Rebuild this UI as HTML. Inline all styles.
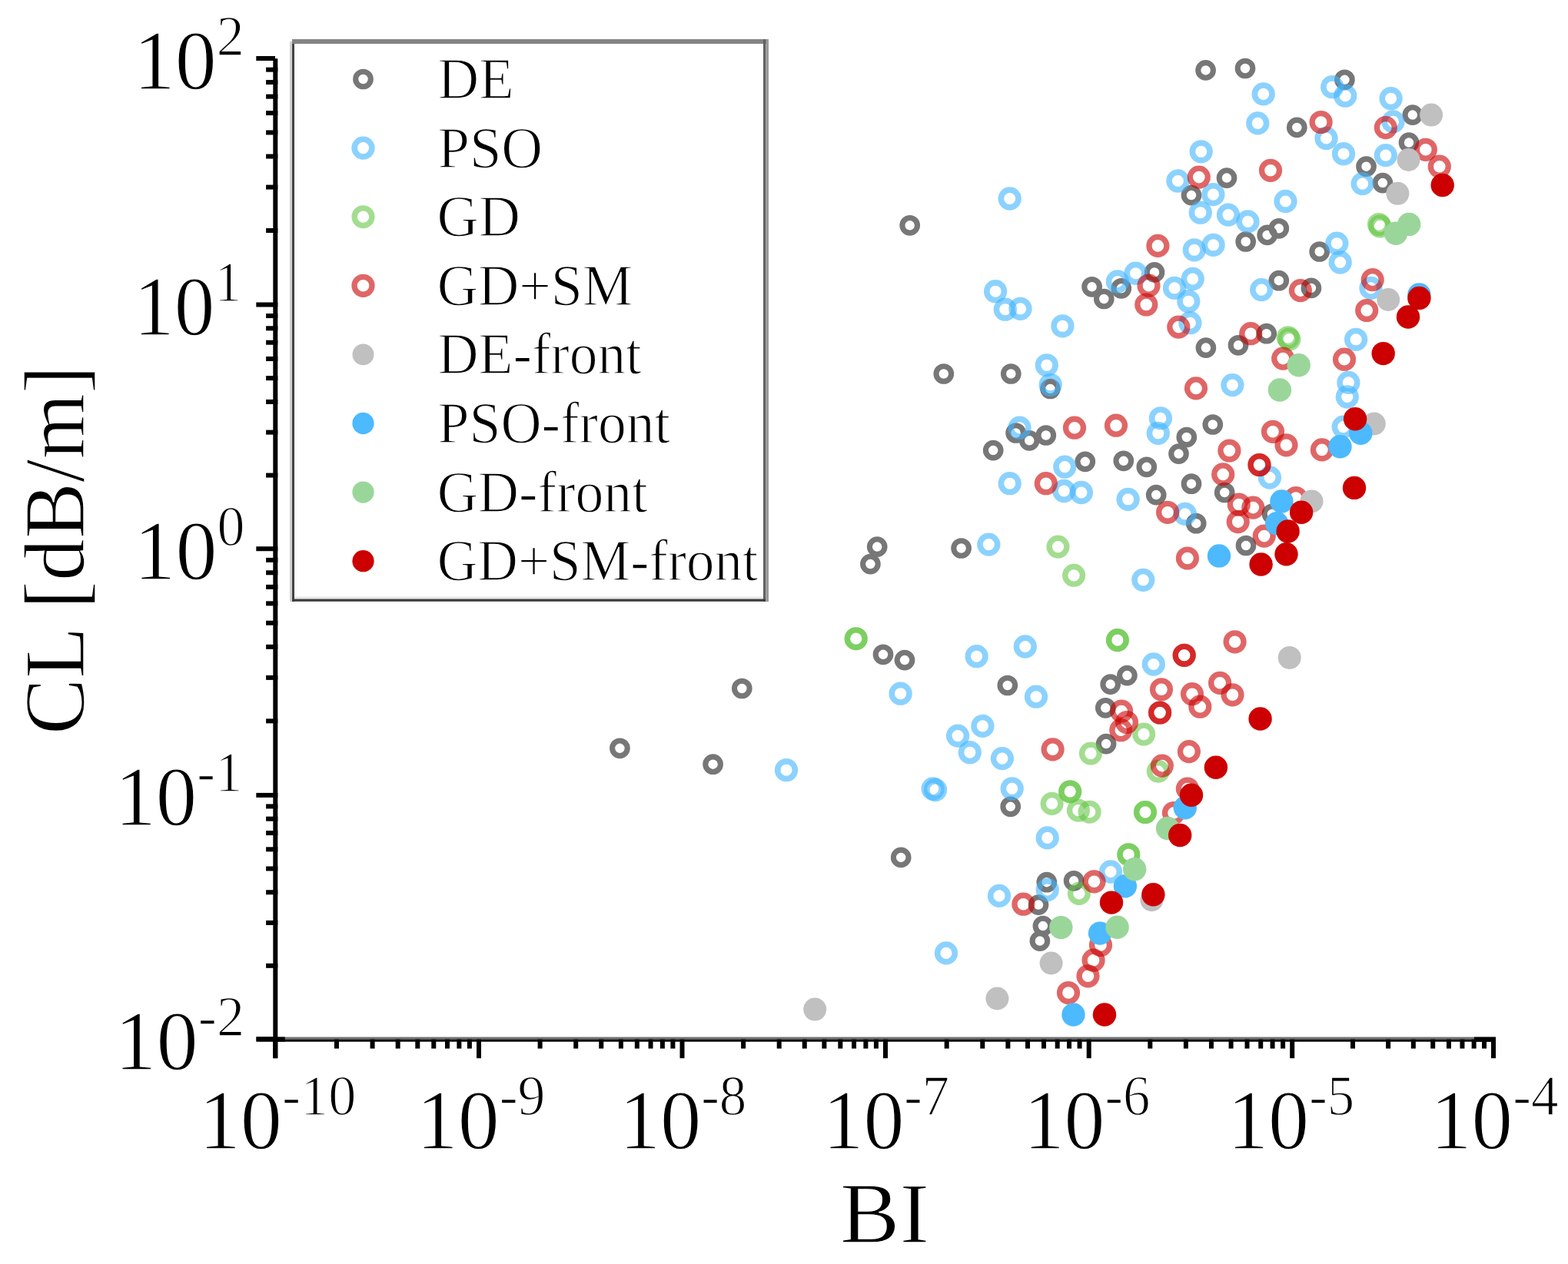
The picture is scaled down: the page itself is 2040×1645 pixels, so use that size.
<!DOCTYPE html><html><head><meta charset="utf-8"><title>CL vs BI</title><style>html,body{margin:0;padding:0;background:#fff;}svg{display:block;}</style></head><body>
<svg width="2040" height="1645" viewBox="0 0 2040 1645">
<rect x="0" y="0" width="2040" height="1645" fill="#fff"/>
<g>
<circle cx="1568.6" cy="91.4" r="9.80" fill="none" stroke="#777777" stroke-width="7.10"/>
<circle cx="1620.0" cy="89.0" r="9.80" fill="none" stroke="#777777" stroke-width="7.10"/>
<circle cx="1687.3" cy="165.9" r="9.80" fill="none" stroke="#777777" stroke-width="7.10"/>
<circle cx="1749.4" cy="103.8" r="9.80" fill="none" stroke="#777777" stroke-width="7.10"/>
<circle cx="1837.8" cy="149.6" r="9.80" fill="none" stroke="#777777" stroke-width="7.10"/>
<circle cx="1833.0" cy="185.6" r="9.80" fill="none" stroke="#777777" stroke-width="7.10"/>
<circle cx="1777.5" cy="216.7" r="9.80" fill="none" stroke="#777777" stroke-width="7.10"/>
<circle cx="1798.9" cy="238.1" r="9.80" fill="none" stroke="#777777" stroke-width="7.10"/>
<circle cx="1596.0" cy="231.6" r="9.80" fill="none" stroke="#777777" stroke-width="7.10"/>
<circle cx="1550.0" cy="254.1" r="9.80" fill="none" stroke="#777777" stroke-width="7.10"/>
<circle cx="1620.7" cy="314.5" r="9.80" fill="none" stroke="#777777" stroke-width="7.10"/>
<circle cx="1648.7" cy="305.9" r="9.80" fill="none" stroke="#777777" stroke-width="7.10"/>
<circle cx="1663.8" cy="297.3" r="9.80" fill="none" stroke="#777777" stroke-width="7.10"/>
<circle cx="1183.7" cy="293.3" r="9.80" fill="none" stroke="#777777" stroke-width="7.10"/>
<circle cx="1420.6" cy="373.3" r="9.80" fill="none" stroke="#777777" stroke-width="7.10"/>
<circle cx="1436.3" cy="389.0" r="9.80" fill="none" stroke="#777777" stroke-width="7.10"/>
<circle cx="1458.8" cy="375.3" r="9.80" fill="none" stroke="#777777" stroke-width="7.10"/>
<circle cx="1716.7" cy="327.5" r="9.80" fill="none" stroke="#777777" stroke-width="7.10"/>
<circle cx="1502.0" cy="354.4" r="9.80" fill="none" stroke="#777777" stroke-width="7.10"/>
<circle cx="1663.8" cy="365.2" r="9.80" fill="none" stroke="#777777" stroke-width="7.10"/>
<circle cx="1705.9" cy="374.9" r="9.80" fill="none" stroke="#777777" stroke-width="7.10"/>
<circle cx="1568.9" cy="452.6" r="9.80" fill="none" stroke="#777777" stroke-width="7.10"/>
<circle cx="1611.0" cy="449.3" r="9.80" fill="none" stroke="#777777" stroke-width="7.10"/>
<circle cx="1647.7" cy="434.2" r="9.80" fill="none" stroke="#777777" stroke-width="7.10"/>
<circle cx="1227.8" cy="486.5" r="9.80" fill="none" stroke="#777777" stroke-width="7.10"/>
<circle cx="1315.3" cy="486.5" r="9.80" fill="none" stroke="#777777" stroke-width="7.10"/>
<circle cx="1366.4" cy="506.0" r="9.80" fill="none" stroke="#777777" stroke-width="7.10"/>
<circle cx="1321.6" cy="563.5" r="9.80" fill="none" stroke="#777777" stroke-width="7.10"/>
<circle cx="1339.2" cy="573.3" r="9.80" fill="none" stroke="#777777" stroke-width="7.10"/>
<circle cx="1360.8" cy="566.5" r="9.80" fill="none" stroke="#777777" stroke-width="7.10"/>
<circle cx="1292.2" cy="586.1" r="9.80" fill="none" stroke="#777777" stroke-width="7.10"/>
<circle cx="1411.8" cy="600.8" r="9.80" fill="none" stroke="#777777" stroke-width="7.10"/>
<circle cx="1461.8" cy="599.8" r="9.80" fill="none" stroke="#777777" stroke-width="7.10"/>
<circle cx="1491.8" cy="607.8" r="9.80" fill="none" stroke="#777777" stroke-width="7.10"/>
<circle cx="1504.2" cy="644.1" r="9.80" fill="none" stroke="#777777" stroke-width="7.10"/>
<circle cx="1577.8" cy="552.5" r="9.80" fill="none" stroke="#777777" stroke-width="7.10"/>
<circle cx="1543.8" cy="569.0" r="9.80" fill="none" stroke="#777777" stroke-width="7.10"/>
<circle cx="1533.5" cy="590.6" r="9.80" fill="none" stroke="#777777" stroke-width="7.10"/>
<circle cx="1550.0" cy="629.7" r="9.80" fill="none" stroke="#777777" stroke-width="7.10"/>
<circle cx="1556.2" cy="681.2" r="9.80" fill="none" stroke="#777777" stroke-width="7.10"/>
<circle cx="1593.2" cy="641.0" r="9.80" fill="none" stroke="#777777" stroke-width="7.10"/>
<circle cx="1655.0" cy="668.8" r="9.80" fill="none" stroke="#777777" stroke-width="7.10"/>
<circle cx="1621.0" cy="710.0" r="9.80" fill="none" stroke="#777777" stroke-width="7.10"/>
<circle cx="1141.2" cy="711.6" r="9.80" fill="none" stroke="#777777" stroke-width="7.10"/>
<circle cx="1132.4" cy="734.1" r="9.80" fill="none" stroke="#777777" stroke-width="7.10"/>
<circle cx="1250.6" cy="713.5" r="9.80" fill="none" stroke="#777777" stroke-width="7.10"/>
<circle cx="1149.0" cy="851.8" r="9.80" fill="none" stroke="#777777" stroke-width="7.10"/>
<circle cx="1177.0" cy="859.1" r="9.80" fill="none" stroke="#777777" stroke-width="7.10"/>
<circle cx="1310.8" cy="892.0" r="9.80" fill="none" stroke="#777777" stroke-width="7.10"/>
<circle cx="1466.4" cy="879.1" r="9.80" fill="none" stroke="#777777" stroke-width="7.10"/>
<circle cx="1444.7" cy="890.6" r="9.80" fill="none" stroke="#777777" stroke-width="7.10"/>
<circle cx="1438.3" cy="921.3" r="9.80" fill="none" stroke="#777777" stroke-width="7.10"/>
<circle cx="1439.1" cy="968.1" r="9.80" fill="none" stroke="#777777" stroke-width="7.10"/>
<circle cx="1314.7" cy="1049.8" r="9.80" fill="none" stroke="#777777" stroke-width="7.10"/>
<circle cx="1172.2" cy="1115.9" r="9.80" fill="none" stroke="#777777" stroke-width="7.10"/>
<circle cx="1351.0" cy="1177.6" r="9.80" fill="none" stroke="#777777" stroke-width="7.10"/>
<circle cx="1361.8" cy="1148.2" r="9.80" fill="none" stroke="#777777" stroke-width="7.10"/>
<circle cx="1397.1" cy="1146.3" r="9.80" fill="none" stroke="#777777" stroke-width="7.10"/>
<circle cx="1356.9" cy="1205.1" r="9.80" fill="none" stroke="#777777" stroke-width="7.10"/>
<circle cx="1352.9" cy="1224.6" r="9.80" fill="none" stroke="#777777" stroke-width="7.10"/>
<circle cx="965.3" cy="896.0" r="9.80" fill="none" stroke="#777777" stroke-width="7.10"/>
<circle cx="806.4" cy="973.8" r="9.80" fill="none" stroke="#777777" stroke-width="7.10"/>
<circle cx="927.6" cy="994.7" r="9.80" fill="none" stroke="#777777" stroke-width="7.10"/>
<circle cx="1643.7" cy="122.4" r="11.35" fill="none" stroke="#3FB4FF" stroke-width="7.60" stroke-opacity="0.6"/>
<circle cx="1636.3" cy="160.4" r="11.35" fill="none" stroke="#3FB4FF" stroke-width="7.60" stroke-opacity="0.6"/>
<circle cx="1725.5" cy="180.0" r="11.35" fill="none" stroke="#3FB4FF" stroke-width="7.60" stroke-opacity="0.6"/>
<circle cx="1748.0" cy="200.2" r="11.35" fill="none" stroke="#3FB4FF" stroke-width="7.60" stroke-opacity="0.6"/>
<circle cx="1733.2" cy="113.2" r="11.35" fill="none" stroke="#3FB4FF" stroke-width="7.60" stroke-opacity="0.6"/>
<circle cx="1750.2" cy="124.7" r="11.35" fill="none" stroke="#3FB4FF" stroke-width="7.60" stroke-opacity="0.6"/>
<circle cx="1809.6" cy="128.2" r="11.35" fill="none" stroke="#3FB4FF" stroke-width="7.60" stroke-opacity="0.6"/>
<circle cx="1812.5" cy="158.4" r="11.35" fill="none" stroke="#3FB4FF" stroke-width="7.60" stroke-opacity="0.6"/>
<circle cx="1802.8" cy="202.1" r="11.35" fill="none" stroke="#3FB4FF" stroke-width="7.60" stroke-opacity="0.6"/>
<circle cx="1772.6" cy="239.1" r="11.35" fill="none" stroke="#3FB4FF" stroke-width="7.60" stroke-opacity="0.6"/>
<circle cx="1562.7" cy="197.3" r="11.35" fill="none" stroke="#3FB4FF" stroke-width="7.60" stroke-opacity="0.6"/>
<circle cx="1532.4" cy="235.5" r="11.35" fill="none" stroke="#3FB4FF" stroke-width="7.60" stroke-opacity="0.6"/>
<circle cx="1578.4" cy="253.1" r="11.35" fill="none" stroke="#3FB4FF" stroke-width="7.60" stroke-opacity="0.6"/>
<circle cx="1672.5" cy="262.0" r="11.35" fill="none" stroke="#3FB4FF" stroke-width="7.60" stroke-opacity="0.6"/>
<circle cx="1561.8" cy="276.7" r="11.35" fill="none" stroke="#3FB4FF" stroke-width="7.60" stroke-opacity="0.6"/>
<circle cx="1598.0" cy="279.6" r="11.35" fill="none" stroke="#3FB4FF" stroke-width="7.60" stroke-opacity="0.6"/>
<circle cx="1623.5" cy="288.4" r="11.35" fill="none" stroke="#3FB4FF" stroke-width="7.60" stroke-opacity="0.6"/>
<circle cx="1313.7" cy="258.5" r="11.35" fill="none" stroke="#3FB4FF" stroke-width="7.60" stroke-opacity="0.6"/>
<circle cx="1295.1" cy="379.2" r="11.35" fill="none" stroke="#3FB4FF" stroke-width="7.60" stroke-opacity="0.6"/>
<circle cx="1307.8" cy="402.7" r="11.35" fill="none" stroke="#3FB4FF" stroke-width="7.60" stroke-opacity="0.6"/>
<circle cx="1327.5" cy="401.8" r="11.35" fill="none" stroke="#3FB4FF" stroke-width="7.60" stroke-opacity="0.6"/>
<circle cx="1382.4" cy="424.3" r="11.35" fill="none" stroke="#3FB4FF" stroke-width="7.60" stroke-opacity="0.6"/>
<circle cx="1453.9" cy="366.5" r="11.35" fill="none" stroke="#3FB4FF" stroke-width="7.60" stroke-opacity="0.6"/>
<circle cx="1477.5" cy="355.7" r="11.35" fill="none" stroke="#3FB4FF" stroke-width="7.60" stroke-opacity="0.6"/>
<circle cx="1553.8" cy="325.3" r="11.35" fill="none" stroke="#3FB4FF" stroke-width="7.60" stroke-opacity="0.6"/>
<circle cx="1578.6" cy="318.8" r="11.35" fill="none" stroke="#3FB4FF" stroke-width="7.60" stroke-opacity="0.6"/>
<circle cx="1739.3" cy="316.7" r="11.35" fill="none" stroke="#3FB4FF" stroke-width="7.60" stroke-opacity="0.6"/>
<circle cx="1743.7" cy="341.5" r="11.35" fill="none" stroke="#3FB4FF" stroke-width="7.60" stroke-opacity="0.6"/>
<circle cx="1528.0" cy="374.9" r="11.35" fill="none" stroke="#3FB4FF" stroke-width="7.60" stroke-opacity="0.6"/>
<circle cx="1551.7" cy="363.0" r="11.35" fill="none" stroke="#3FB4FF" stroke-width="7.60" stroke-opacity="0.6"/>
<circle cx="1546.3" cy="392.2" r="11.35" fill="none" stroke="#3FB4FF" stroke-width="7.60" stroke-opacity="0.6"/>
<circle cx="1548.4" cy="420.2" r="11.35" fill="none" stroke="#3FB4FF" stroke-width="7.60" stroke-opacity="0.6"/>
<circle cx="1641.2" cy="377.1" r="11.35" fill="none" stroke="#3FB4FF" stroke-width="7.60" stroke-opacity="0.6"/>
<circle cx="1783.5" cy="374.9" r="11.35" fill="none" stroke="#3FB4FF" stroke-width="7.60" stroke-opacity="0.6"/>
<circle cx="1764.1" cy="441.8" r="11.35" fill="none" stroke="#3FB4FF" stroke-width="7.60" stroke-opacity="0.6"/>
<circle cx="1754.4" cy="497.9" r="11.35" fill="none" stroke="#3FB4FF" stroke-width="7.60" stroke-opacity="0.6"/>
<circle cx="1752.8" cy="516.5" r="11.35" fill="none" stroke="#3FB4FF" stroke-width="7.60" stroke-opacity="0.6"/>
<circle cx="1603.4" cy="501.1" r="11.35" fill="none" stroke="#3FB4FF" stroke-width="7.60" stroke-opacity="0.6"/>
<circle cx="1361.8" cy="475.3" r="11.35" fill="none" stroke="#3FB4FF" stroke-width="7.60" stroke-opacity="0.6"/>
<circle cx="1366.7" cy="500.8" r="11.35" fill="none" stroke="#3FB4FF" stroke-width="7.60" stroke-opacity="0.6"/>
<circle cx="1326.5" cy="556.7" r="11.35" fill="none" stroke="#3FB4FF" stroke-width="7.60" stroke-opacity="0.6"/>
<circle cx="1385.3" cy="607.6" r="11.35" fill="none" stroke="#3FB4FF" stroke-width="7.60" stroke-opacity="0.6"/>
<circle cx="1313.7" cy="629.2" r="11.35" fill="none" stroke="#3FB4FF" stroke-width="7.60" stroke-opacity="0.6"/>
<circle cx="1384.3" cy="639.0" r="11.35" fill="none" stroke="#3FB4FF" stroke-width="7.60" stroke-opacity="0.6"/>
<circle cx="1406.9" cy="641.0" r="11.35" fill="none" stroke="#3FB4FF" stroke-width="7.60" stroke-opacity="0.6"/>
<circle cx="1467.6" cy="649.8" r="11.35" fill="none" stroke="#3FB4FF" stroke-width="7.60" stroke-opacity="0.6"/>
<circle cx="1509.9" cy="544.3" r="11.35" fill="none" stroke="#3FB4FF" stroke-width="7.60" stroke-opacity="0.6"/>
<circle cx="1506.8" cy="563.8" r="11.35" fill="none" stroke="#3FB4FF" stroke-width="7.60" stroke-opacity="0.6"/>
<circle cx="1651.9" cy="621.5" r="11.35" fill="none" stroke="#3FB4FF" stroke-width="7.60" stroke-opacity="0.6"/>
<circle cx="1747.7" cy="555.6" r="11.35" fill="none" stroke="#3FB4FF" stroke-width="7.60" stroke-opacity="0.6"/>
<circle cx="1541.8" cy="668.8" r="11.35" fill="none" stroke="#3FB4FF" stroke-width="7.60" stroke-opacity="0.6"/>
<circle cx="1286.3" cy="708.6" r="11.35" fill="none" stroke="#3FB4FF" stroke-width="7.60" stroke-opacity="0.6"/>
<circle cx="1487.3" cy="754.8" r="11.35" fill="none" stroke="#3FB4FF" stroke-width="7.60" stroke-opacity="0.6"/>
<circle cx="1270.6" cy="854.2" r="11.35" fill="none" stroke="#3FB4FF" stroke-width="7.60" stroke-opacity="0.6"/>
<circle cx="1333.8" cy="841.5" r="11.35" fill="none" stroke="#3FB4FF" stroke-width="7.60" stroke-opacity="0.6"/>
<circle cx="1500.8" cy="864.5" r="11.35" fill="none" stroke="#3FB4FF" stroke-width="7.60" stroke-opacity="0.6"/>
<circle cx="1171.6" cy="902.7" r="11.35" fill="none" stroke="#3FB4FF" stroke-width="7.60" stroke-opacity="0.6"/>
<circle cx="1348.0" cy="906.7" r="11.35" fill="none" stroke="#3FB4FF" stroke-width="7.60" stroke-opacity="0.6"/>
<circle cx="1278.4" cy="944.9" r="11.35" fill="none" stroke="#3FB4FF" stroke-width="7.60" stroke-opacity="0.6"/>
<circle cx="1246.1" cy="957.6" r="11.35" fill="none" stroke="#3FB4FF" stroke-width="7.60" stroke-opacity="0.6"/>
<circle cx="1261.8" cy="979.2" r="11.35" fill="none" stroke="#3FB4FF" stroke-width="7.60" stroke-opacity="0.6"/>
<circle cx="1303.9" cy="987.1" r="11.35" fill="none" stroke="#3FB4FF" stroke-width="7.60" stroke-opacity="0.6"/>
<circle cx="1213.7" cy="1026.5" r="11.35" fill="none" stroke="#3FB4FF" stroke-width="7.60" stroke-opacity="0.6"/>
<circle cx="1217.0" cy="1028.0" r="11.35" fill="none" stroke="#3FB4FF" stroke-width="7.60" stroke-opacity="0.6"/>
<circle cx="1316.7" cy="1026.3" r="11.35" fill="none" stroke="#3FB4FF" stroke-width="7.60" stroke-opacity="0.6"/>
<circle cx="1362.7" cy="1090.4" r="11.35" fill="none" stroke="#3FB4FF" stroke-width="7.60" stroke-opacity="0.6"/>
<circle cx="1300.0" cy="1165.9" r="11.35" fill="none" stroke="#3FB4FF" stroke-width="7.60" stroke-opacity="0.6"/>
<circle cx="1362.7" cy="1158.0" r="11.35" fill="none" stroke="#3FB4FF" stroke-width="7.60" stroke-opacity="0.6"/>
<circle cx="1445.0" cy="1134.5" r="11.35" fill="none" stroke="#3FB4FF" stroke-width="7.60" stroke-opacity="0.6"/>
<circle cx="1231.0" cy="1240.4" r="11.35" fill="none" stroke="#3FB4FF" stroke-width="7.60" stroke-opacity="0.6"/>
<circle cx="1023.0" cy="1002.2" r="11.35" fill="none" stroke="#3FB4FF" stroke-width="7.60" stroke-opacity="0.6"/>
<circle cx="1794.0" cy="292.0" r="11.35" fill="none" stroke="#61C53F" stroke-width="7.40" stroke-opacity="0.58"/>
<circle cx="1795.5" cy="294.5" r="11.35" fill="none" stroke="#61C53F" stroke-width="7.40" stroke-opacity="0.58"/>
<circle cx="1675.7" cy="439.2" r="11.35" fill="none" stroke="#61C53F" stroke-width="7.40" stroke-opacity="0.58"/>
<circle cx="1677.4" cy="441.6" r="11.35" fill="none" stroke="#61C53F" stroke-width="7.40" stroke-opacity="0.58"/>
<circle cx="1376.5" cy="711.6" r="11.35" fill="none" stroke="#61C53F" stroke-width="7.40" stroke-opacity="0.58"/>
<circle cx="1397.1" cy="748.8" r="11.35" fill="none" stroke="#61C53F" stroke-width="7.40" stroke-opacity="0.58"/>
<circle cx="1113.7" cy="831.2" r="11.35" fill="none" stroke="#61C53F" stroke-width="7.40" stroke-opacity="0.58"/>
<circle cx="1113.7" cy="831.2" r="11.35" fill="none" stroke="#61C53F" stroke-width="7.40" stroke-opacity="0.58"/>
<circle cx="1453.9" cy="833.1" r="11.35" fill="none" stroke="#61C53F" stroke-width="7.40" stroke-opacity="0.58"/>
<circle cx="1453.9" cy="833.1" r="11.35" fill="none" stroke="#61C53F" stroke-width="7.40" stroke-opacity="0.58"/>
<circle cx="1488.1" cy="955.5" r="11.35" fill="none" stroke="#61C53F" stroke-width="7.40" stroke-opacity="0.58"/>
<circle cx="1419.0" cy="980.5" r="11.35" fill="none" stroke="#61C53F" stroke-width="7.40" stroke-opacity="0.58"/>
<circle cx="1392.2" cy="1030.2" r="11.35" fill="none" stroke="#61C53F" stroke-width="7.40" stroke-opacity="0.58"/>
<circle cx="1392.2" cy="1030.2" r="11.35" fill="none" stroke="#61C53F" stroke-width="7.40" stroke-opacity="0.58"/>
<circle cx="1368.6" cy="1045.9" r="11.35" fill="none" stroke="#61C53F" stroke-width="7.40" stroke-opacity="0.58"/>
<circle cx="1402.9" cy="1054.7" r="11.35" fill="none" stroke="#61C53F" stroke-width="7.40" stroke-opacity="0.58"/>
<circle cx="1417.6" cy="1056.7" r="11.35" fill="none" stroke="#61C53F" stroke-width="7.40" stroke-opacity="0.58"/>
<circle cx="1490.0" cy="1057.0" r="11.35" fill="none" stroke="#61C53F" stroke-width="7.40" stroke-opacity="0.58"/>
<circle cx="1490.0" cy="1057.0" r="11.35" fill="none" stroke="#61C53F" stroke-width="7.40" stroke-opacity="0.58"/>
<circle cx="1506.8" cy="1003.8" r="11.35" fill="none" stroke="#61C53F" stroke-width="7.40" stroke-opacity="0.58"/>
<circle cx="1403.9" cy="1162.9" r="11.35" fill="none" stroke="#61C53F" stroke-width="7.40" stroke-opacity="0.58"/>
<circle cx="1468.3" cy="1112.2" r="11.35" fill="none" stroke="#61C53F" stroke-width="7.40" stroke-opacity="0.58"/>
<circle cx="1468.3" cy="1112.2" r="11.35" fill="none" stroke="#61C53F" stroke-width="7.40" stroke-opacity="0.58"/>
<circle cx="1718.6" cy="159.0" r="11.45" fill="none" stroke="#CC0000" stroke-width="7.30" stroke-opacity="0.6"/>
<circle cx="1802.8" cy="166.1" r="11.45" fill="none" stroke="#CC0000" stroke-width="7.30" stroke-opacity="0.6"/>
<circle cx="1854.8" cy="194.8" r="11.45" fill="none" stroke="#CC0000" stroke-width="7.30" stroke-opacity="0.6"/>
<circle cx="1872.8" cy="216.7" r="11.45" fill="none" stroke="#CC0000" stroke-width="7.30" stroke-opacity="0.6"/>
<circle cx="1559.8" cy="230.6" r="11.45" fill="none" stroke="#CC0000" stroke-width="7.30" stroke-opacity="0.6"/>
<circle cx="1653.0" cy="221.8" r="11.45" fill="none" stroke="#CC0000" stroke-width="7.30" stroke-opacity="0.6"/>
<circle cx="1506.4" cy="319.9" r="11.45" fill="none" stroke="#CC0000" stroke-width="7.30" stroke-opacity="0.6"/>
<circle cx="1494.5" cy="371.7" r="11.45" fill="none" stroke="#CC0000" stroke-width="7.30" stroke-opacity="0.6"/>
<circle cx="1491.3" cy="396.5" r="11.45" fill="none" stroke="#CC0000" stroke-width="7.30" stroke-opacity="0.6"/>
<circle cx="1533.3" cy="425.6" r="11.45" fill="none" stroke="#CC0000" stroke-width="7.30" stroke-opacity="0.6"/>
<circle cx="1691.9" cy="378.1" r="11.45" fill="none" stroke="#CC0000" stroke-width="7.30" stroke-opacity="0.6"/>
<circle cx="1785.7" cy="364.1" r="11.45" fill="none" stroke="#CC0000" stroke-width="7.30" stroke-opacity="0.6"/>
<circle cx="1778.2" cy="404.0" r="11.45" fill="none" stroke="#CC0000" stroke-width="7.30" stroke-opacity="0.6"/>
<circle cx="1627.2" cy="434.2" r="11.45" fill="none" stroke="#CC0000" stroke-width="7.30" stroke-opacity="0.6"/>
<circle cx="1669.2" cy="466.6" r="11.45" fill="none" stroke="#CC0000" stroke-width="7.30" stroke-opacity="0.6"/>
<circle cx="1749.0" cy="467.7" r="11.45" fill="none" stroke="#CC0000" stroke-width="7.30" stroke-opacity="0.6"/>
<circle cx="1556.0" cy="505.4" r="11.45" fill="none" stroke="#CC0000" stroke-width="7.30" stroke-opacity="0.6"/>
<circle cx="1398.0" cy="556.7" r="11.45" fill="none" stroke="#CC0000" stroke-width="7.30" stroke-opacity="0.6"/>
<circle cx="1452.0" cy="553.7" r="11.45" fill="none" stroke="#CC0000" stroke-width="7.30" stroke-opacity="0.6"/>
<circle cx="1360.8" cy="629.2" r="11.45" fill="none" stroke="#CC0000" stroke-width="7.30" stroke-opacity="0.6"/>
<circle cx="1656.0" cy="561.8" r="11.45" fill="none" stroke="#CC0000" stroke-width="7.30" stroke-opacity="0.6"/>
<circle cx="1673.5" cy="579.3" r="11.45" fill="none" stroke="#CC0000" stroke-width="7.30" stroke-opacity="0.6"/>
<circle cx="1599.4" cy="586.5" r="11.45" fill="none" stroke="#CC0000" stroke-width="7.30" stroke-opacity="0.6"/>
<circle cx="1591.2" cy="617.4" r="11.45" fill="none" stroke="#CC0000" stroke-width="7.30" stroke-opacity="0.6"/>
<circle cx="1638.5" cy="605.0" r="11.45" fill="none" stroke="#CC0000" stroke-width="7.30" stroke-opacity="0.6"/>
<circle cx="1638.5" cy="605.0" r="11.45" fill="none" stroke="#CC0000" stroke-width="7.30" stroke-opacity="0.6"/>
<circle cx="1719.9" cy="585.4" r="11.45" fill="none" stroke="#CC0000" stroke-width="7.30" stroke-opacity="0.6"/>
<circle cx="1519.1" cy="666.8" r="11.45" fill="none" stroke="#CC0000" stroke-width="7.30" stroke-opacity="0.6"/>
<circle cx="1611.8" cy="656.5" r="11.45" fill="none" stroke="#CC0000" stroke-width="7.30" stroke-opacity="0.6"/>
<circle cx="1630.3" cy="660.6" r="11.45" fill="none" stroke="#CC0000" stroke-width="7.30" stroke-opacity="0.6"/>
<circle cx="1610.7" cy="679.1" r="11.45" fill="none" stroke="#CC0000" stroke-width="7.30" stroke-opacity="0.6"/>
<circle cx="1686.0" cy="648.0" r="11.45" fill="none" stroke="#CC0000" stroke-width="7.30" stroke-opacity="0.6"/>
<circle cx="1644.7" cy="697.6" r="11.45" fill="none" stroke="#CC0000" stroke-width="7.30" stroke-opacity="0.6"/>
<circle cx="1544.9" cy="726.5" r="11.45" fill="none" stroke="#CC0000" stroke-width="7.30" stroke-opacity="0.6"/>
<circle cx="1606.6" cy="835.3" r="11.45" fill="none" stroke="#CC0000" stroke-width="7.30" stroke-opacity="0.6"/>
<circle cx="1540.7" cy="852.8" r="11.45" fill="none" stroke="#CC0000" stroke-width="7.30" stroke-opacity="0.6"/>
<circle cx="1540.7" cy="852.8" r="11.45" fill="none" stroke="#CC0000" stroke-width="7.30" stroke-opacity="0.6"/>
<circle cx="1511.0" cy="897.3" r="11.45" fill="none" stroke="#CC0000" stroke-width="7.30" stroke-opacity="0.6"/>
<circle cx="1551.0" cy="903.2" r="11.45" fill="none" stroke="#CC0000" stroke-width="7.30" stroke-opacity="0.6"/>
<circle cx="1561.3" cy="919.7" r="11.45" fill="none" stroke="#CC0000" stroke-width="7.30" stroke-opacity="0.6"/>
<circle cx="1587.1" cy="888.8" r="11.45" fill="none" stroke="#CC0000" stroke-width="7.30" stroke-opacity="0.6"/>
<circle cx="1603.5" cy="904.3" r="11.45" fill="none" stroke="#CC0000" stroke-width="7.30" stroke-opacity="0.6"/>
<circle cx="1509.1" cy="927.5" r="11.45" fill="none" stroke="#CC0000" stroke-width="7.30" stroke-opacity="0.6"/>
<circle cx="1509.1" cy="927.5" r="11.45" fill="none" stroke="#CC0000" stroke-width="7.30" stroke-opacity="0.6"/>
<circle cx="1459.1" cy="925.5" r="11.45" fill="none" stroke="#CC0000" stroke-width="7.30" stroke-opacity="0.6"/>
<circle cx="1458.3" cy="950.2" r="11.45" fill="none" stroke="#CC0000" stroke-width="7.30" stroke-opacity="0.6"/>
<circle cx="1466.0" cy="940.0" r="11.45" fill="none" stroke="#CC0000" stroke-width="7.30" stroke-opacity="0.6"/>
<circle cx="1369.6" cy="975.3" r="11.45" fill="none" stroke="#CC0000" stroke-width="7.30" stroke-opacity="0.6"/>
<circle cx="1546.9" cy="978.1" r="11.45" fill="none" stroke="#CC0000" stroke-width="7.30" stroke-opacity="0.6"/>
<circle cx="1511.9" cy="996.6" r="11.45" fill="none" stroke="#CC0000" stroke-width="7.30" stroke-opacity="0.6"/>
<circle cx="1544.9" cy="1026.5" r="11.45" fill="none" stroke="#CC0000" stroke-width="7.30" stroke-opacity="0.6"/>
<circle cx="1527.0" cy="1058.0" r="11.45" fill="none" stroke="#CC0000" stroke-width="7.30" stroke-opacity="0.6"/>
<circle cx="1331.4" cy="1176.7" r="11.45" fill="none" stroke="#CC0000" stroke-width="7.30" stroke-opacity="0.6"/>
<circle cx="1423.5" cy="1147.3" r="11.45" fill="none" stroke="#CC0000" stroke-width="7.30" stroke-opacity="0.6"/>
<circle cx="1432.0" cy="1230.0" r="11.45" fill="none" stroke="#CC0000" stroke-width="7.30" stroke-opacity="0.6"/>
<circle cx="1422.6" cy="1249.7" r="11.45" fill="none" stroke="#CC0000" stroke-width="7.30" stroke-opacity="0.6"/>
<circle cx="1415.5" cy="1270.3" r="11.45" fill="none" stroke="#CC0000" stroke-width="7.30" stroke-opacity="0.6"/>
<circle cx="1390.0" cy="1292.0" r="11.45" fill="none" stroke="#CC0000" stroke-width="7.30" stroke-opacity="0.6"/>
<circle cx="1862.1" cy="149.6" r="15.00" fill="#C0C0C0"/>
<circle cx="1832.5" cy="208.0" r="15.00" fill="#C0C0C0"/>
<circle cx="1818.4" cy="251.8" r="15.00" fill="#C0C0C0"/>
<circle cx="1806.2" cy="390.0" r="15.00" fill="#C0C0C0"/>
<circle cx="1787.8" cy="551.5" r="15.00" fill="#C0C0C0"/>
<circle cx="1706.5" cy="652.4" r="15.00" fill="#C0C0C0"/>
<circle cx="1677.7" cy="855.9" r="15.00" fill="#C0C0C0"/>
<circle cx="1498.4" cy="1171.2" r="15.00" fill="#C0C0C0"/>
<circle cx="1367.6" cy="1253.5" r="15.00" fill="#C0C0C0"/>
<circle cx="1297.4" cy="1299.5" r="15.00" fill="#C0C0C0"/>
<circle cx="1060.2" cy="1313.6" r="15.00" fill="#C0C0C0"/>
<circle cx="1846.4" cy="383.5" r="15.20" fill="#4DB9FF"/>
<circle cx="1770.3" cy="563.8" r="15.20" fill="#4DB9FF"/>
<circle cx="1743.5" cy="581.3" r="15.20" fill="#4DB9FF"/>
<circle cx="1667.4" cy="652.4" r="15.20" fill="#4DB9FF"/>
<circle cx="1661.2" cy="681.2" r="15.20" fill="#4DB9FF"/>
<circle cx="1586.0" cy="723.4" r="15.20" fill="#4DB9FF"/>
<circle cx="1541.8" cy="1051.2" r="15.20" fill="#4DB9FF"/>
<circle cx="1463.9" cy="1153.3" r="15.20" fill="#4DB9FF"/>
<circle cx="1431.1" cy="1214.6" r="15.20" fill="#4DB9FF"/>
<circle cx="1396.5" cy="1320.5" r="15.20" fill="#4DB9FF"/>
<circle cx="1816.0" cy="303.7" r="15.20" fill="#9AD69A"/>
<circle cx="1833.2" cy="291.9" r="15.20" fill="#9AD69A"/>
<circle cx="1689.7" cy="475.2" r="15.20" fill="#9AD69A"/>
<circle cx="1664.9" cy="507.5" r="15.20" fill="#9AD69A"/>
<circle cx="1519.1" cy="1078.0" r="15.20" fill="#9AD69A"/>
<circle cx="1476.2" cy="1131.3" r="15.20" fill="#9AD69A"/>
<circle cx="1380.4" cy="1207.1" r="15.20" fill="#9AD69A"/>
<circle cx="1453.6" cy="1206.8" r="15.20" fill="#9AD69A"/>
<circle cx="1876.7" cy="241.0" r="15.20" fill="#CC0000"/>
<circle cx="1846.4" cy="387.9" r="15.20" fill="#CC0000"/>
<circle cx="1832.0" cy="412.5" r="15.20" fill="#CC0000"/>
<circle cx="1799.7" cy="460.1" r="15.20" fill="#CC0000"/>
<circle cx="1763.1" cy="545.3" r="15.20" fill="#CC0000"/>
<circle cx="1762.0" cy="634.9" r="15.20" fill="#CC0000"/>
<circle cx="1693.1" cy="666.8" r="15.20" fill="#CC0000"/>
<circle cx="1675.6" cy="691.5" r="15.20" fill="#CC0000"/>
<circle cx="1673.5" cy="721.3" r="15.20" fill="#CC0000"/>
<circle cx="1640.6" cy="734.5" r="15.20" fill="#CC0000"/>
<circle cx="1639.6" cy="935.5" r="15.20" fill="#CC0000"/>
<circle cx="1581.9" cy="998.7" r="15.20" fill="#CC0000"/>
<circle cx="1550.0" cy="1034.7" r="15.20" fill="#CC0000"/>
<circle cx="1535.2" cy="1087.0" r="15.20" fill="#CC0000"/>
<circle cx="1446.0" cy="1174.6" r="15.20" fill="#CC0000"/>
<circle cx="1500.4" cy="1164.3" r="15.20" fill="#CC0000"/>
<circle cx="1437.0" cy="1320.5" r="15.20" fill="#CC0000"/>
</g>
<rect x="355.3" y="76.2" width="6.0" height="1301.0" fill="#000"/>
<rect x="355.3" y="1349.6" width="1590.7" height="3" fill="#707070"/>
<rect x="355.3" y="1352.6" width="1590.7" height="3.1" fill="#000"/>
<rect x="333.7" y="1349.5" width="37" height="6.1" fill="#000"/>
<rect x="1918" y="1349.6" width="28" height="6.1" fill="#000"/>
<rect x="333.3" y="1349.40" width="28.00" height="6" fill="#000"/>
<rect x="346.1" y="1253.82" width="15.20" height="6" fill="#000"/>
<rect x="346.1" y="1197.91" width="15.20" height="6" fill="#000"/>
<rect x="346.1" y="1158.25" width="15.20" height="6" fill="#000"/>
<rect x="346.1" y="1127.48" width="15.20" height="6" fill="#000"/>
<rect x="346.1" y="1102.34" width="15.20" height="6" fill="#000"/>
<rect x="346.1" y="1081.08" width="15.20" height="6" fill="#000"/>
<rect x="346.1" y="1062.67" width="15.20" height="6" fill="#000"/>
<rect x="346.1" y="1046.43" width="15.20" height="6" fill="#000"/>
<rect x="333.3" y="1031.90" width="28.00" height="6" fill="#000"/>
<rect x="346.1" y="935.36" width="15.20" height="6" fill="#000"/>
<rect x="346.1" y="878.89" width="15.20" height="6" fill="#000"/>
<rect x="346.1" y="838.82" width="15.20" height="6" fill="#000"/>
<rect x="346.1" y="807.74" width="15.20" height="6" fill="#000"/>
<rect x="346.1" y="782.35" width="15.20" height="6" fill="#000"/>
<rect x="346.1" y="760.88" width="15.20" height="6" fill="#000"/>
<rect x="346.1" y="742.28" width="15.20" height="6" fill="#000"/>
<rect x="346.1" y="725.87" width="15.20" height="6" fill="#000"/>
<rect x="333.3" y="711.20" width="28.00" height="6" fill="#000"/>
<rect x="346.1" y="615.56" width="15.20" height="6" fill="#000"/>
<rect x="346.1" y="559.62" width="15.20" height="6" fill="#000"/>
<rect x="346.1" y="519.93" width="15.20" height="6" fill="#000"/>
<rect x="346.1" y="489.14" width="15.20" height="6" fill="#000"/>
<rect x="346.1" y="463.98" width="15.20" height="6" fill="#000"/>
<rect x="346.1" y="442.71" width="15.20" height="6" fill="#000"/>
<rect x="346.1" y="424.29" width="15.20" height="6" fill="#000"/>
<rect x="346.1" y="408.04" width="15.20" height="6" fill="#000"/>
<rect x="333.3" y="393.50" width="28.00" height="6" fill="#000"/>
<rect x="346.1" y="297.02" width="15.20" height="6" fill="#000"/>
<rect x="346.1" y="240.58" width="15.20" height="6" fill="#000"/>
<rect x="346.1" y="200.54" width="15.20" height="6" fill="#000"/>
<rect x="346.1" y="169.48" width="15.20" height="6" fill="#000"/>
<rect x="346.1" y="144.10" width="15.20" height="6" fill="#000"/>
<rect x="346.1" y="122.65" width="15.20" height="6" fill="#000"/>
<rect x="346.1" y="104.06" width="15.20" height="6" fill="#000"/>
<rect x="346.1" y="87.67" width="15.20" height="6" fill="#000"/>
<rect x="333.3" y="73.00" width="24.70" height="6" fill="#000"/>
<rect x="355.25" y="1352.6" width="6" height="24.6" fill="#000"/>
<rect x="434.95" y="1352.6" width="6" height="12.0" fill="#000"/>
<rect x="481.57" y="1352.6" width="6" height="12.0" fill="#000"/>
<rect x="514.65" y="1352.6" width="6" height="12.0" fill="#000"/>
<rect x="540.30" y="1352.6" width="6" height="12.0" fill="#000"/>
<rect x="561.27" y="1352.6" width="6" height="12.0" fill="#000"/>
<rect x="578.99" y="1352.6" width="6" height="12.0" fill="#000"/>
<rect x="594.34" y="1352.6" width="6" height="12.0" fill="#000"/>
<rect x="607.89" y="1352.6" width="6" height="12.0" fill="#000"/>
<rect x="620.00" y="1352.6" width="6" height="24.6" fill="#000"/>
<rect x="699.62" y="1352.6" width="6" height="12.0" fill="#000"/>
<rect x="746.20" y="1352.6" width="6" height="12.0" fill="#000"/>
<rect x="779.24" y="1352.6" width="6" height="12.0" fill="#000"/>
<rect x="804.88" y="1352.6" width="6" height="12.0" fill="#000"/>
<rect x="825.82" y="1352.6" width="6" height="12.0" fill="#000"/>
<rect x="843.53" y="1352.6" width="6" height="12.0" fill="#000"/>
<rect x="858.87" y="1352.6" width="6" height="12.0" fill="#000"/>
<rect x="872.40" y="1352.6" width="6" height="12.0" fill="#000"/>
<rect x="884.50" y="1352.6" width="6" height="24.6" fill="#000"/>
<rect x="964.12" y="1352.6" width="6" height="12.0" fill="#000"/>
<rect x="1010.70" y="1352.6" width="6" height="12.0" fill="#000"/>
<rect x="1043.74" y="1352.6" width="6" height="12.0" fill="#000"/>
<rect x="1069.38" y="1352.6" width="6" height="12.0" fill="#000"/>
<rect x="1090.32" y="1352.6" width="6" height="12.0" fill="#000"/>
<rect x="1108.03" y="1352.6" width="6" height="12.0" fill="#000"/>
<rect x="1123.37" y="1352.6" width="6" height="12.0" fill="#000"/>
<rect x="1136.90" y="1352.6" width="6" height="12.0" fill="#000"/>
<rect x="1149.00" y="1352.6" width="6" height="24.6" fill="#000"/>
<rect x="1228.68" y="1352.6" width="6" height="12.0" fill="#000"/>
<rect x="1275.29" y="1352.6" width="6" height="12.0" fill="#000"/>
<rect x="1308.37" y="1352.6" width="6" height="12.0" fill="#000"/>
<rect x="1334.02" y="1352.6" width="6" height="12.0" fill="#000"/>
<rect x="1354.98" y="1352.6" width="6" height="12.0" fill="#000"/>
<rect x="1372.70" y="1352.6" width="6" height="12.0" fill="#000"/>
<rect x="1388.05" y="1352.6" width="6" height="12.0" fill="#000"/>
<rect x="1401.59" y="1352.6" width="6" height="12.0" fill="#000"/>
<rect x="1413.70" y="1352.6" width="6" height="24.6" fill="#000"/>
<rect x="1493.32" y="1352.6" width="6" height="12.0" fill="#000"/>
<rect x="1539.90" y="1352.6" width="6" height="12.0" fill="#000"/>
<rect x="1572.94" y="1352.6" width="6" height="12.0" fill="#000"/>
<rect x="1598.58" y="1352.6" width="6" height="12.0" fill="#000"/>
<rect x="1619.52" y="1352.6" width="6" height="12.0" fill="#000"/>
<rect x="1637.23" y="1352.6" width="6" height="12.0" fill="#000"/>
<rect x="1652.57" y="1352.6" width="6" height="12.0" fill="#000"/>
<rect x="1666.10" y="1352.6" width="6" height="12.0" fill="#000"/>
<rect x="1678.20" y="1352.6" width="6" height="24.6" fill="#000"/>
<rect x="1757.01" y="1352.6" width="6" height="12.0" fill="#000"/>
<rect x="1803.11" y="1352.6" width="6" height="12.0" fill="#000"/>
<rect x="1835.82" y="1352.6" width="6" height="12.0" fill="#000"/>
<rect x="1861.19" y="1352.6" width="6" height="12.0" fill="#000"/>
<rect x="1881.92" y="1352.6" width="6" height="12.0" fill="#000"/>
<rect x="1899.45" y="1352.6" width="6" height="12.0" fill="#000"/>
<rect x="1914.63" y="1352.6" width="6" height="12.0" fill="#000"/>
<rect x="1928.02" y="1352.6" width="6" height="12.0" fill="#000"/>
<rect x="1940.00" y="1352.6" width="6" height="24.6" fill="#000"/>
<text transform="translate(173.87,115.50) scale(0.9731,1)" x="0" y="0" font-family="'Liberation Serif','Times New Roman',serif" font-size="111" stroke="#fff" stroke-width="1.4">10<tspan font-size="74" dy="-44">2</tspan></text>
<text transform="translate(174.12,436.00) scale(0.9478,1)" x="0" y="0" font-family="'Liberation Serif','Times New Roman',serif" font-size="111" stroke="#fff" stroke-width="1.4">10<tspan font-size="74" dy="-44">1</tspan></text>
<text transform="translate(174.37,753.70) scale(0.9733,1)" x="0" y="0" font-family="'Liberation Serif','Times New Roman',serif" font-size="111" stroke="#fff" stroke-width="1.4">10<tspan font-size="74" dy="-44">0</tspan></text>
<text transform="translate(149.49,1074.40) scale(0.9614,1)" x="0" y="0" font-family="'Liberation Serif','Times New Roman',serif" font-size="111" stroke="#fff" stroke-width="1.4">10<tspan font-size="74" dy="-44">-1</tspan></text>
<text transform="translate(149.33,1391.90) scale(0.9774,1)" x="0" y="0" font-family="'Liberation Serif','Times New Roman',serif" font-size="111" stroke="#fff" stroke-width="1.4">10<tspan font-size="74" dy="-44">-2</tspan></text>
<text transform="translate(258.63,1495.00) scale(0.9766,1)" x="0" y="0" font-family="'Liberation Serif','Times New Roman',serif" font-size="111" stroke="#fff" stroke-width="1.4">10<tspan font-size="74" dy="-44">-10</tspan></text>
<text transform="translate(541.78,1495.00) scale(0.9719,1)" x="0" y="0" font-family="'Liberation Serif','Times New Roman',serif" font-size="111" stroke="#fff" stroke-width="1.4">10<tspan font-size="74" dy="-44">-9</tspan></text>
<text transform="translate(805.71,1495.00) scale(0.9594,1)" x="0" y="0" font-family="'Liberation Serif','Times New Roman',serif" font-size="111" stroke="#fff" stroke-width="1.4">10<tspan font-size="74" dy="-44">-8</tspan></text>
<text transform="translate(1070.46,1495.00) scale(0.9540,1)" x="0" y="0" font-family="'Liberation Serif','Times New Roman',serif" font-size="111" stroke="#fff" stroke-width="1.4">10<tspan font-size="74" dy="-44">-7</tspan></text>
<text transform="translate(1331.66,1495.00) scale(0.9540,1)" x="0" y="0" font-family="'Liberation Serif','Times New Roman',serif" font-size="111" stroke="#fff" stroke-width="1.4">10<tspan font-size="74" dy="-44">-6</tspan></text>
<text transform="translate(1596.93,1495.00) scale(0.9569,1)" x="0" y="0" font-family="'Liberation Serif','Times New Roman',serif" font-size="111" stroke="#fff" stroke-width="1.4">10<tspan font-size="74" dy="-44">-5</tspan></text>
<text transform="translate(1861.05,1495.00) scale(0.9648,1)" x="0" y="0" font-family="'Liberation Serif','Times New Roman',serif" font-size="111" stroke="#fff" stroke-width="1.4">10<tspan font-size="74" dy="-44">-4</tspan></text>
<text transform="translate(1092.92,1617.00) scale(1.0283,1)" x="0" y="0" font-family="'Liberation Serif','Times New Roman',serif" font-size="113" stroke="#fff" stroke-width="1.4">BI</text>
<text transform="translate(108.5,955.90) rotate(-90) scale(0.9790,1)" x="0" y="0" font-family="'Liberation Serif','Times New Roman',serif" font-size="112" stroke="#fff" stroke-width="1.4">CL [dB/m]</text>
<rect x="377" y="54" width="3" height="729" fill="#d0d0d0"/>
<rect x="380" y="51" width="3" height="732" fill="#444"/>
<rect x="380" y="51" width="620" height="6" fill="#848484"/>
<rect x="993" y="51" width="3.5" height="732" fill="#626262"/>
<rect x="996.5" y="51" width="3.5" height="732" fill="#9a9a9a"/>
<rect x="383" y="776.5" width="610" height="2.5" fill="#e8e8e8"/>
<rect x="380" y="779.5" width="616" height="3.3" fill="#3c3c3c"/>
<circle cx="472.5" cy="103.0" r="9.80" fill="none" stroke="#777777" stroke-width="7.10"/>
<text transform="translate(569.57,128.00) scale(0.9639,1)" x="0" y="0" font-family="'Liberation Serif','Times New Roman',serif" font-size="77" stroke="#fff" stroke-width="1.4">DE</text>
<circle cx="472.5" cy="192.6" r="11.35" fill="none" stroke="#3FB4FF" stroke-width="7.60" stroke-opacity="0.6"/>
<text transform="translate(569.57,217.60) scale(0.9669,1)" x="0" y="0" font-family="'Liberation Serif','Times New Roman',serif" font-size="77" stroke="#fff" stroke-width="1.4">PSO</text>
<circle cx="472.5" cy="282.2" r="11.35" fill="none" stroke="#61C53F" stroke-width="7.40" stroke-opacity="0.58"/>
<text transform="translate(568.58,307.20) scale(0.9743,1)" x="0" y="0" font-family="'Liberation Serif','Times New Roman',serif" font-size="77" stroke="#fff" stroke-width="1.4">GD</text>
<circle cx="472.5" cy="371.8" r="11.45" fill="none" stroke="#CC0000" stroke-width="7.30" stroke-opacity="0.6"/>
<text transform="translate(568.63,396.80) scale(0.9582,1)" x="0" y="0" font-family="'Liberation Serif','Times New Roman',serif" font-size="77" stroke="#fff" stroke-width="1.4">GD+SM</text>
<circle cx="472.5" cy="461.4" r="13.95" fill="#C0C0C0"/>
<text transform="translate(569.59,486.40) scale(0.9535,1)" x="0" y="0" font-family="'Liberation Serif','Times New Roman',serif" font-size="77" stroke="#fff" stroke-width="1.4">DE-front</text>
<circle cx="472.5" cy="551.0" r="14.14" fill="#4DB9FF"/>
<text transform="translate(569.59,576.00) scale(0.9554,1)" x="0" y="0" font-family="'Liberation Serif','Times New Roman',serif" font-size="77" stroke="#fff" stroke-width="1.4">PSO-front</text>
<circle cx="472.5" cy="640.6" r="14.14" fill="#9AD69A"/>
<text transform="translate(568.63,665.60) scale(0.9562,1)" x="0" y="0" font-family="'Liberation Serif','Times New Roman',serif" font-size="77" stroke="#fff" stroke-width="1.4">GD-front</text>
<circle cx="472.5" cy="730.2" r="14.14" fill="#CC0000"/>
<text transform="translate(568.66,755.20) scale(0.9463,1)" x="0" y="0" font-family="'Liberation Serif','Times New Roman',serif" font-size="77" stroke="#fff" stroke-width="1.4">GD+SM-front</text>
</svg></body></html>
